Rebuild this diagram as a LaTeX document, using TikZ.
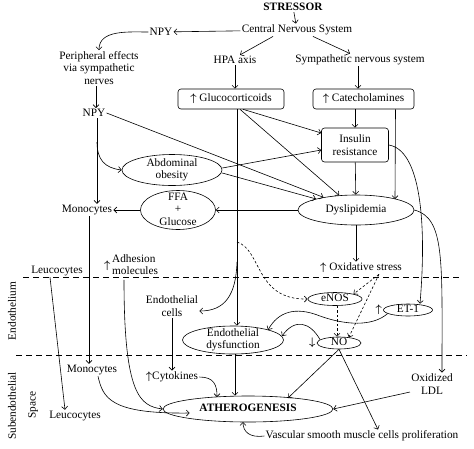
\documentclass[tikz,border=0pt]{standalone}
\usepackage{amsmath}
\usepackage{fontspec}
\setmainfont{Liberation Serif}
\usepackage{tikz}
\usetikzlibrary{shapes.geometric,arrows.meta,calc}

\newcommand\elltxt[1]{\smash{\raisebox{-2.8pt}{\begin{tabular}{@{}c@{}}#1\end{tabular}}}}
\newcommand\upar{$\boldsymbol{\uparrow}$}
\newcommand\dnar{$\boldsymbol{\downarrow}$}

\tikzset{
  txt/.style={inner sep=1pt, align=center},
  box/.style={draw, rounded corners=3pt, inner sep=0pt, align=center},
  ell/.style={draw, ellipse, inner sep=0pt},
  sep/.style={line width=1pt, dash pattern=on 6pt off 4pt},
  dsh/.style={dash pattern=on 2.5pt off 2pt}
}

\begin{document}
\begin{tikzpicture}[x=1pt, y=-1pt, line width=0.6pt,
  >={Straight Barb[length=3pt,width=6pt]},
  every node/.style={font=\fontsize{11.3}{12.5}\selectfont}]
\useasboundingbox (0,0) rectangle (474,448);

% layers
\draw [sep] (23,277) -- (462,277);
\draw [sep] (16,355) -- (467,355);
\node [txt, rotate=90] (endo) at (12,311) {Endothelium};
\node [txt, rotate=90] (subA) at (12,406) {Subendothelial};
\node [txt, rotate=90] (subB) at (33,405) {Space};

% nodes
\node [txt] (stress) at (293,7) {\textbf{STRESSOR}};
\node [txt] (cns) at (297,30) {Central Nervous System};
\node [txt] (npyA) at (161,32) {NPY};
\node [txt] (periph) at (99,68) {Peripheral effects\\via sympathetic\\nerves};
\node [txt] (npyB) at (94,113) {NPY};
\node [txt] (hpa) at (235,60) {HPA axis};
\node [txt] (sns) at (360,60) {Sympathetic nervous system};
\node [box, minimum width=106, minimum height=20] (gluco) at (231,99) {\upar\ Glucocorticoids};
\node [box, minimum width=101, minimum height=20] (catech) at (363.5,99) {\upar\ Catecholamines};
\node [box, minimum width=67, minimum height=34] (insul) at (355,145) {Insulin\\resistance};
\node [ell, minimum width=100, minimum height=31] (abd) at (172,170) {\elltxt{Abdominal\\obesity}};
\node [ell, minimum width=116, minimum height=30] (dys) at (356,210) {\elltxt{Dyslipidemia}};
\node [ell, minimum width=75, minimum height=39] (ffa) at (178,210) {\elltxt{FFA\\+\\Glucose}};
\node [txt] (monoA) at (87,210) {Monocytes};
\node [txt] (leucA) at (57,271) {Leucocytes};
\node [txt] (adh) at (131,266) {\upar\,\begin{tabular}{@{}l@{}}Adhesion\\molecules\end{tabular}};
\node [txt] (oxid) at (361,268) {\upar\ Oxidative stress};
\node [ell, minimum width=54, minimum height=13] (enos) at (335,299) {\elltxt{eNOS}};
\node [ell, minimum width=49, minimum height=12, label={[inner sep=1pt]left:\upar}] (et) at (408,310) {\elltxt{ET-1}};
\node [ell, minimum width=44, minimum height=12, label={[inner sep=1pt]left:\dnar}] (no) at (339,343) {\elltxt{NO}};
\node [txt] (endcell) at (172,306) {Endothelial\\cells};
\node [ell, minimum width=101, minimum height=28] (endys) at (233,340) {\elltxt{Endothelial\\dysfunction}};
\node [txt] (monoB) at (92,370) {Monocytes};
\node [txt] (cyto) at (172,377) {\upar Cytokines};
\node [ell, minimum width=170, minimum height=26] (athero) at (248,409) {\elltxt{\textbf{ATHEROGENESIS}}};
\node [txt] (leucB) at (75,416) {Leucocytes};
\node [txt] (oxldl) at (432,384) {Oxidized\\LDL};
\node [txt] (vsmc) at (362,436) {Vascular smooth muscle cells proliferation};

% top part
\draw [->] (stress) -- (cns);
\draw [->] (cns) -- (npyA);
\draw [->] (npyA) to[out=180,in=90] (periph);
\draw [->] ([xshift=-24pt]cns.south) -- ([xshift=5pt]hpa.north);
\draw [->] ([xshift=16pt]cns.south) -- ([xshift=-10pt]sns.north);
\draw [->] (hpa) -- (hpa |- gluco.north);
\draw [->] ([xshift=-2pt]sns.south) -- ([xshift=-2pt]sns.south |- catech.north);
\draw [->] ([xshift=-3pt]periph.south) -- ([xshift=-3pt]periph.south |- npyB.north);
\draw [->] (npyB.east) -- (dys);
\draw [->] ([xshift=12pt]gluco.south) -- ([yshift=12pt]insul.west);
\draw [->] ([xshift=9pt]gluco.south) -- (dys);
\draw [->] ([yshift=2pt]abd.east) -- ([yshift=-5pt]insul.west);
\draw [->] ([yshift=-3pt]abd.east) -- (dys);
\draw [->] (insul.north |- catech.south) -- (insul.north);
\draw [->] ([xshift=32pt]catech.south) -- ($(dys)+(39,-11)$);
\draw [->] (insul) -- (dys);
\draw [->] (insul.east) .. controls (420,150) and (427,220) .. ([xshift=12pt]et.north);
\draw [->] (dys.east) .. controls (445,218) and (442,260) .. ([xshift=10pt]oxldl.north);
\draw [->] (dys.west) -- (ffa.east);
\draw [->] (ffa.west) -- (monoA.east);
\draw [->] ([xshift=3pt]npyB.south) -- ([xshift=3pt]npyB.south |- monoA.north);
\coordinate (nB) at (97,142);
\draw [->] (nB) .. controls (97,160) and (105,168) .. (abd.west);
\draw [->] (dys.south) -- (dys.south |- oxid.north);

% glucocorticoids down
\coordinate (gtop) at ([xshift=6pt]gluco.south);
\coordinate (gA) at (237,242);
\coordinate (gB) at (237,262);
\draw [->] (gtop) -- (gtop |- endys.north);
\draw [->, dsh] (gA) .. controls (262,250) and (255,300) .. (enos.west);
\draw [->] (gB) .. controls (236,295) and (225,311) .. ([yshift=-5pt]endcell.east);

% endothelium
\coordinate (ox) at ([xshift=18pt]oxid.south);
\draw [->, dsh] (ox) -- (enos.15);
\draw [->, dsh] (ox) -- (no.30);
\draw [->, dsh] ([xshift=2pt]enos.south) -- ([xshift=2pt]enos.south |- no.north);
\draw [->] (et.190) .. controls (372,327) and (345,325) .. (320,316)
  .. controls (295,306) and (278,312) .. ($(endys)+(35,-10)$);
\draw [->] (no.170) .. controls (310,322) and (295,318) .. ($(endys)+(49,-4)$);
\draw [->] ([xshift=-7pt]leucA.south) -- ([xshift=-10pt]leucB.north);
\draw [->] ([xshift=2pt]monoA.south) -- ([xshift=2pt]monoA.south |- monoB.north);
\draw [->] ([xshift=-7pt]adh.south) .. controls (124,395) and (140,406) .. (athero.west);
\draw [->] (endcell.south) -- (endcell.south |- cyto.north);

% subendothelial
\draw [->] ([xshift=6pt]monoB.south) .. controls (103,398) and (110,414) .. ($(athero.west)+(27,4)$);
\draw [->] (cyto.east) .. controls (214,377) and (217,385) .. ($(athero)+(-31,-12)$);
\draw [->] ([xshift=2pt]endys.south) -- ([xshift=2pt]endys.south |- athero.north);
\draw [->] (no.south) -- ($(athero)+(40,-11)$);
\draw [->] (no.south) -- ([xshift=16pt]vsmc.north);
\draw [->] ([yshift=-8pt]oxldl.west) -- (athero.east);
\draw [->] (vsmc.west) .. controls (250,438) and (243,432) .. ($(athero)+(-5,13)$);
\end{tikzpicture}
\end{document}
